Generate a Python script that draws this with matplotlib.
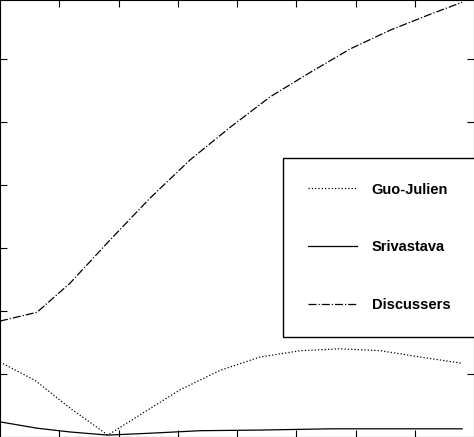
import matplotlib
matplotlib.use("Agg")
import matplotlib.pyplot as plt

disc_x = [0, .625, 1.18, 1.86, 2.53, 3.21, 3.89, 4.56, 5.24, 5.91, 6.59, 7.26, 7.8]
disc_y = [1.84, 1.98, 2.44, 3.13, 3.79, 4.40, 4.92, 5.40, 5.79, 6.16, 6.46, 6.71, 6.90]
guo_x = [0, .59, 1.18, 1.82, 2.36, 3.04, 3.72, 4.39, 5.07, 5.74, 6.42, 7.09, 7.8]
guo_y = [1.19, .90, .46, .03, .35, .75, 1.06, 1.27, 1.37, 1.40, 1.37, 1.27, 1.17]
sri_x = [0, .625, 1.18, 1.82, 2.53, 3.38, 4.39, 5.57, 6.76, 7.8]
sri_y = [.24, .14, .08, .03, .06, .10, .11, .13, .13, .13]

fig = plt.figure(figsize=(4.74, 4.37), dpi=100)
ax = fig.add_axes([0, 0, 1, 1])
ax.plot(guo_x, guo_y, color='black', ls=':', lw=0.9, label='Guo-Julien')
ax.plot(sri_x, sri_y, color='black', ls='-', lw=0.9, label='Srivastava')
ax.plot(disc_x, disc_y, color='black', ls='-.', lw=0.9, label='Discussers')
ax.set_xlim(0, 8)
ax.set_ylim(0, 437/63)
ax.set_xticks(range(1, 8))
ax.set_yticks(range(1, 7))
ax.tick_params(direction='in', top=True, right=True, labelbottom=False, labelleft=False, length=5)
leg = ax.legend(loc='center', bbox_to_anchor=(0.616, 0.229, 0.367, 0.41),
                fancybox=False, edgecolor='black', framealpha=1,
                prop={'family': 'Liberation Sans', 'weight': 'bold', 'size': 10.5},
                labelspacing=3.0, handlelength=3.4, borderpad=1.7, handletextpad=1.0)
leg.get_frame().set_linewidth(1.0)
fig.savefig('out.png', dpi=100)
